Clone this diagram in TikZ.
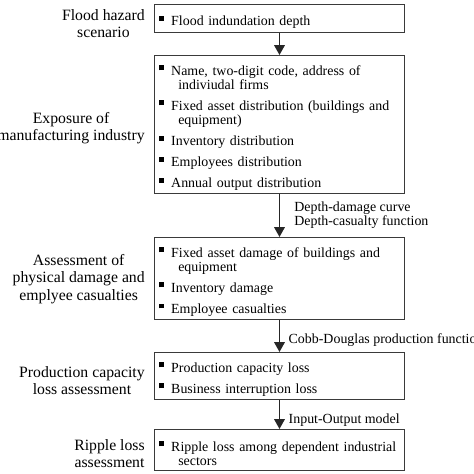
\documentclass[tikz,border=0pt]{standalone}
\usepackage{fontspec}
\setmainfont{Liberation Serif}
\usetikzlibrary{arrows, arrows.meta}
\usetikzlibrary{positioning}

\definecolor{boxline}{HTML}{3A3A3A}
\definecolor{arrowline}{HTML}{262626}

\newcommand{\sqitem}[1]{\noindent\hangindent=13.5pt\hangafter=1%
  \makebox[8.5pt][l]{\raisebox{3.5pt}{\rule{3.5pt}{3.5pt}}}#1\par
  \setlength{\parskip}{5pt}}

\tikzset{
  stagebox/.style={draw=boxline, line width=0.7pt, anchor=north west,
    minimum width=6.25cm, text width=171pt, inner xsep=3pt, inner ysep=2pt,
    align=left, font=\fontsize{9.9}{10}\selectfont,
    execute at begin node={\setlength{\parskip}{0pt}\rule{0pt}{12pt}}},
  stagename/.style={align=center, inner sep=0pt, font=\fontsize{11.2}{12.4}\selectfont},
  flowarrow/.style={draw=arrowline, line width=1.1pt, -{Triangle[width=7.5pt,length=7pt]}},
  methodlbl/.style={align=left, inner sep=0pt, font=\fontsize{9.9}{10}\selectfont}
}

\begin{document}
\begin{tikzpicture}
    \useasboundingbox (0,0) rectangle (11.85,-11.85);

    \node[stagebox, minimum height=0.7cm] (b1) at (3.85,-0.1) {\sqitem{Flood indundation depth}};
    \node[stagebox, minimum height=3.375cm] (b2) at (3.85,-1.375) {%
      \sqitem{Name, two-digit code, address of\newline indiviudal firms}
      \sqitem{Fixed asset distribution (buildings and\newline equipment)}
      \sqitem{Inventory distribution}
      \sqitem{Employees distribution}
      \sqitem{Annual output distribution}};
    \node[stagebox, minimum height=1.95cm] (b3) at (3.85,-5.925) {%
      \sqitem{Fixed asset damage of buildings and\newline equipment}
      \sqitem{Inventory damage}
      \sqitem{Employee casualties}};
    \node[stagebox, minimum height=1.025cm] (b4) at (3.85,-8.8) {%
      \sqitem{Production capacity loss}
      \sqitem{Business interruption loss}};
    \node[stagebox, minimum height=1.025cm] (b5) at (3.85,-10.725) {%
      \sqitem{Ripple loss among dependent industrial\newline sectors}};

    \node[stagename, left=6.4pt of b1, yshift=-3.5pt] (s1) {Flood hazard\\scenario};
    \node[stagename, left=6.4pt of b2, yshift=-2.5pt] (s2) {Exposure of\\manufacturing industry};
    \node[stagename, left=6.4pt of b3, yshift=-0.5pt] (s3) {Assessment of\\physical damage and\\emplyee casualties};
    \node[stagename, left=6.4pt of b4, yshift=-3.5pt] (s4) {Production capacity\\loss assessment};
    \node[stagename, left=6.4pt of b5, yshift=-2.5pt] (s5) {Ripple loss\\assessment};

    \draw[flowarrow] (b1) -- (b2);
    \draw[flowarrow] (b2) -- node[methodlbl, right=10pt] (m1) {Depth-damage curve\\Depth-casualty function} (b3);
    \draw[flowarrow] (b3) -- node[methodlbl, right=6pt, yshift=-3pt] (m2) {Cobb-Douglas production function} (b4);
    \draw[flowarrow] (b4) -- node[methodlbl, right=6pt, yshift=-4pt] (m3) {Input-Output model} (b5);
\end{tikzpicture}
\end{document}
